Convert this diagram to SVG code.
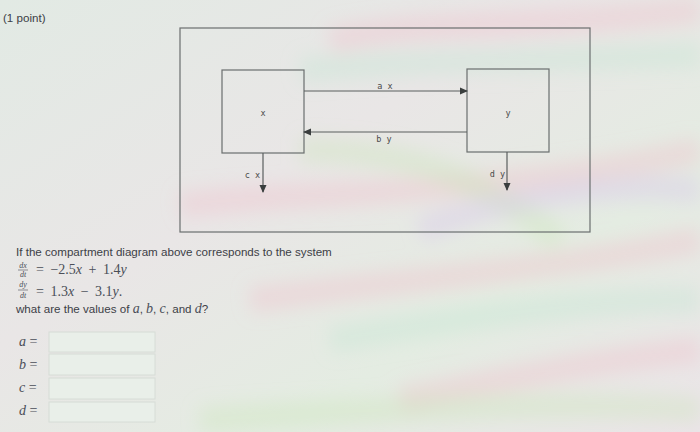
<svg xmlns="http://www.w3.org/2000/svg" width="700" height="432" viewBox="0 0 700 432">
<style>
.box{fill:none;stroke:#6a6e6e;stroke-width:1.2}
.ln{stroke:#5a5e5e;stroke-width:1.2;fill:none}
.lbl{font-family:"DejaVu Sans Mono","Liberation Mono",monospace;font-size:8.5px;fill:#4a4a4a}
.txt{font-family:"Liberation Sans",Arial,sans-serif;font-size:11.6px;fill:#3c4046}
.m{font-family:"Liberation Serif","Times New Roman",serif;font-size:14px;fill:#4a4e58}
.eq{word-spacing:3px}
.mi{font-style:italic}
.fr{font-family:"Liberation Serif",serif;font-size:8px;font-style:italic;fill:#4a4e58}
.inp{fill:#e9efe9;stroke:#d6dcd6;stroke-width:1}
.band{fill:none;stroke-width:26;opacity:0.35}
</style>
<defs>
<linearGradient id="bg" x1="0" y1="0" x2="1" y2="1">
<stop offset="0" stop-color="#e2eae4"/>
<stop offset="0.4" stop-color="#e9e6e6"/>
<stop offset="0.7" stop-color="#e4ece2"/>
<stop offset="1" stop-color="#ebe4e8"/>
</linearGradient>
<filter id="blur" filterUnits="userSpaceOnUse" x="0" y="0" width="700" height="432"><feGaussianBlur stdDeviation="9"/></filter>
<marker id="ah" markerWidth="8" markerHeight="8" refX="7" refY="4" orient="auto" markerUnits="userSpaceOnUse">
<path d="M0,0.5 L8,4 L0,7.5 Z" fill="#3a3e3e"/>
</marker>
</defs>
<rect width="700" height="432" fill="url(#bg)"/>
<g filter="url(#blur)">
<path class="band" stroke="#f2bcc8" d="M330,40 C420,20 520,30 700,10"/>
<path class="band" stroke="#bfe6d2" d="M300,70 C420,60 560,60 700,55"/>
<path class="band" stroke="#f2bcc8" d="M180,205 C300,190 480,200 700,150"/>
<path class="band" stroke="#c8e6b8" d="M300,150 C400,150 470,170 560,240"/>
<path class="band" stroke="#d8c4ec" d="M420,230 C500,200 600,180 700,190"/>
<path class="band" stroke="#f2bcc8" d="M250,300 C400,280 550,270 700,240"/>
<path class="band" stroke="#bfe6d2" d="M330,340 C450,320 580,300 700,300"/>
<path class="band" stroke="#f2bcc8" d="M400,400 C500,380 600,360 700,350"/>
<path class="band" stroke="#c8e6b8" d="M200,420 C350,410 550,400 700,410"/>
</g>
<text class="txt" x="3" y="22">(1 point)</text>
<rect class="box" x="180" y="28" width="410" height="204"/>
<g id="nodeX">
<rect class="box" x="222" y="70" width="82" height="83"/>
<text class="lbl" x="263" y="116" text-anchor="middle">x</text>
</g>
<g id="nodeY">
<rect class="box" x="467" y="69" width="82" height="83"/>
<text class="lbl" x="508" y="116" text-anchor="middle">y</text>
</g>
<g id="connectors">
<line class="ln" x1="304" y1="91" x2="467" y2="91" marker-end="url(#ah)"/>
<text class="lbl" x="385" y="89" text-anchor="middle">a x</text>
<line class="ln" x1="467" y1="132" x2="304" y2="132" marker-end="url(#ah)"/>
<text class="lbl" x="384" y="142" text-anchor="middle">b y</text>
<line class="ln" x1="263" y1="153" x2="263" y2="192" marker-end="url(#ah)"/>
<text class="lbl" x="260" y="178" text-anchor="end">c x</text>
<line class="ln" x1="507" y1="152" x2="507" y2="190" marker-end="url(#ah)"/>
<text class="lbl" x="505" y="177" text-anchor="end">d y</text>
</g>
<text class="txt" x="16" y="256">If the compartment diagram above corresponds to the system</text>
<text class="fr" x="23" y="268" text-anchor="middle">dx</text>
<line x1="18" y1="270" x2="28" y2="270" stroke="#4a4e58" stroke-width="0.6"/>
<text class="fr" x="23" y="277" text-anchor="middle">dt</text>
<text class="m eq" x="36" y="274">= −2.5<tspan class="mi">x</tspan> + 1.4<tspan class="mi">y</tspan></text>
<text class="fr" x="23" y="287" text-anchor="middle">dy</text>
<line x1="18" y1="290" x2="28" y2="290" stroke="#4a4e58" stroke-width="0.6"/>
<text class="fr" x="23" y="298" text-anchor="middle">dt</text>
<text class="m eq" x="36" y="296">= 1.3<tspan class="mi">x</tspan> − 3.1<tspan class="mi">y</tspan>.</text>
<text class="txt" x="16" y="313">what are the values of <tspan class="m mi" font-size="13">a</tspan>, <tspan class="m mi" font-size="13">b</tspan>, <tspan class="m mi" font-size="13">c</tspan>, and <tspan class="m mi" font-size="13">d</tspan>?</text>
<text class="m" x="19" y="346"><tspan class="mi">a</tspan> =</text>
<rect class="inp" x="49" y="332" width="106" height="20"/>
<text class="m" x="19" y="369"><tspan class="mi">b</tspan> =</text>
<rect class="inp" x="49" y="354" width="106" height="21"/>
<text class="m" x="19" y="392"><tspan class="mi">c</tspan> =</text>
<rect class="inp" x="49" y="378" width="106" height="21"/>
<text class="m" x="19" y="415"><tspan class="mi">d</tspan> =</text>
<rect class="inp" x="49" y="402" width="106" height="20"/>
</svg>
